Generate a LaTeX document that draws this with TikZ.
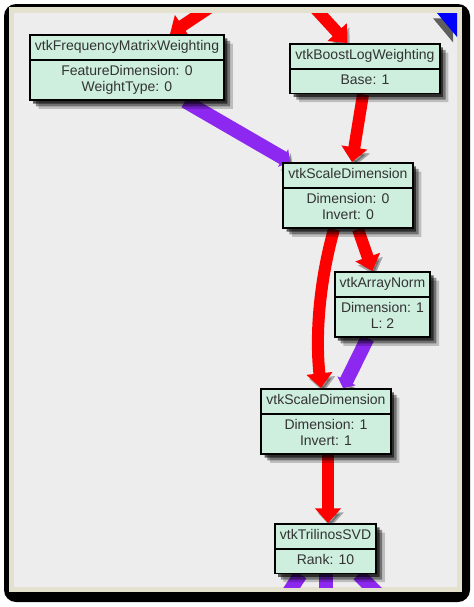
\documentclass[tikz,border=0pt]{standalone}
\usepackage{fontspec}
\setmainfont{Liberation Sans}
\usetikzlibrary{arrows.meta,shapes.multipart,shadows,calc}

\definecolor{boxfill}{RGB}{206,238,222}
\definecolor{boxtext}{RGB}{51,51,51}
\definecolor{paneback}{RGB}{237,237,237}
\definecolor{paneframe}{RGB}{228,225,206}
\definecolor{linkred}{RGB}{255,0,0}
\definecolor{linkpurple}{RGB}{140,40,240}
\definecolor{cornerblue}{RGB}{0,0,255}

\pgfdeclarelayer{bg}
\pgfdeclarelayer{edges}
\pgfsetlayers{bg,edges,main}

\tikzset{
  vtkbox/.style={rectangle split, rectangle split parts=2, draw=black, line width=1.4pt,
    fill=boxfill, text=boxtext, align=center, font=\fontsize{10.5}{11.8}\selectfont,
    inner xsep=3.8pt, inner ysep=2.7pt, anchor=north,
    drop shadow={shadow xshift=2.5pt, shadow yshift=-2.5pt, opacity=.6, fill=black},
    drop shadow={shadow xshift=4.5pt, shadow yshift=-4.5pt, opacity=.4, fill=black},
    drop shadow={shadow xshift=6.5pt, shadow yshift=-6.5pt, opacity=.2, fill=black}},
  redlink/.style={draw=linkred, line width=9pt, -{Triangle[length=11pt,width=19pt]}},
  purplelink/.style={draw=linkpurple, line width=10.5pt, -{Triangle[length=6pt,width=15pt]}},
  linkshadow/.style={preaction={draw=black, opacity=.3, transform canvas={shift={(2pt,-3pt)}}}}
}

\begin{document}
\begin{tikzpicture}[x=0.75pt, y=-0.75pt]
\useasboundingbox (0,0) rectangle (474,607);

% Window frame
\begin{pgfonlayer}{bg}
\fill[white] (0,0) rectangle (474,607);
\fill[black, rounded corners=9] (4,4) rectangle (470,602);
\fill[paneframe] (9,7) rectangle (462,592);
\fill[paneback] (14,13) rectangle (457,587);
\begin{scope}
\clip (14,13) rectangle (457,587);
\fill[cornerblue, drop shadow={shadow xshift=-3pt, shadow yshift=-4pt, opacity=.6, fill=black}]
  (437,13) -- (457,13) -- (457,37) -- cycle;
\end{scope}
\end{pgfonlayer}

% Filters
\node[vtkbox] (freq) at (127,34) {\strut vtkFrequencyMatrixWeighting\nodepart{two}\strut FeatureDimension: 0\\WeightType: 0\strut};
\node[vtkbox] (boost) at (365,43) {\strut vtkBoostLogWeighting\nodepart{two}\strut Base: 1};
\node[vtkbox] (scale1) at (348,162) {\strut vtkScaleDimension\nodepart{two}\strut Dimension: 0\\Invert: 0\strut};
\node[vtkbox] (norm) at (382.5,271) {\strut vtkArrayNorm\nodepart{two}\strut Dimension: 1\\L: 2\strut};
\node[vtkbox] (scale2) at (326,388) {\strut vtkScaleDimension\nodepart{two}\strut Dimension: 1\\Invert: 1\strut};
\node[vtkbox] (svd) at (325.5,523) {\strut vtkTrilinosSVD\nodepart{two}\strut Rank: 10};

% Loose ends outside the pane
\coordinate (topin1) at (212,6);
\coordinate (topin2) at (313,6);
\coordinate (out1) at (276,612);
\coordinate (out2) at (325.5,612);
\coordinate (out3) at (396,612);

% Pipeline connections
\begin{pgfonlayer}{edges}
\begin{scope}
\clip (14,13) rectangle (457,587);
\draw[redlink, linkshadow] (topin1) -- ($(freq.north)+(43,0)$);
\draw[redlink, linkshadow] (topin2) -- ($(boost.north)+(-18,0)$);
\draw[purplelink, linkshadow] ($(freq.south)+(58,0)$) -- ($(scale1.north)+(-58,0)$);
\draw[redlink, linkshadow] ($(boost.south)+(-2,0)$) -- ($(scale1.north)+(4,0)$);
\draw[redlink, linkshadow] ($(scale1.south)+(-14,0)$) .. controls +(-14,50) and +(-6,-55) .. ($(scale2.north)+(-5,0)$);
\draw[redlink, linkshadow] ($(scale1.south)+(10,0)$) -- ($(norm.north)+(-10,0)$);
\draw[purplelink, linkshadow] ($(norm.south)+(-15,0)$) -- ($(scale2.north)+(17,0)$);
\draw[redlink, linkshadow] ($(scale2.south)+(2,0)$) -- ($(svd.north)+(2.5,0)$);
\draw[purplelink, -] ($(svd.south)+(-25,0)$) -- (out1);
\draw[purplelink, -] (svd.south) -- (out2);
\draw[purplelink, -] ($(svd.south)+(33,0)$) -- (out3);
\end{scope}
\end{pgfonlayer}

\end{tikzpicture}
\end{document}
